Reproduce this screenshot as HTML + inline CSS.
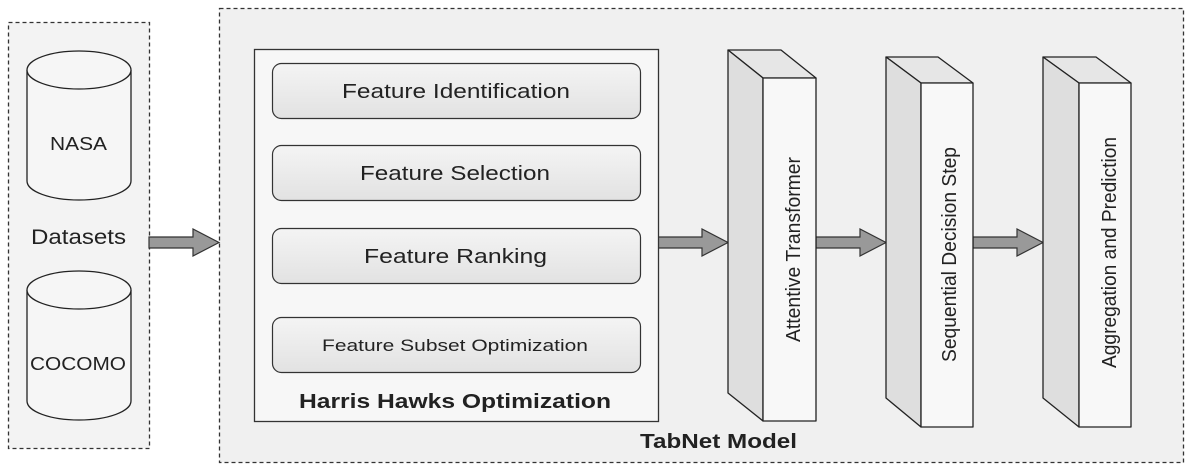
<!DOCTYPE html>
<html><head><meta charset="utf-8"><style>
html,body{margin:0;padding:0;background:#fff;}
svg{display:block;}
text{font-family:"Liberation Sans",Arial,sans-serif;fill:#222;}
</style></head><body>
<svg width="1200" height="476" viewBox="0 0 1200 476" xmlns="http://www.w3.org/2000/svg">
<defs>
<linearGradient id="g" x1="0" y1="0" x2="0" y2="1"><stop offset="0" stop-color="#f4f4f4"/><stop offset="1" stop-color="#e2e2e2"/></linearGradient>
</defs>
<rect x="8.5" y="22.5" width="141" height="426" fill="#f3f3f3" stroke="#333" stroke-width="1.3" stroke-dasharray="4,3"/>
<rect x="219.5" y="8.5" width="964" height="454" fill="#f0f0f0" stroke="#333" stroke-width="1.3" stroke-dasharray="4,3"/>
<g fill="#f6f6f6" stroke="#222" stroke-width="1.3">
<path d="M27,70 L27,181 A52,19 0 0 0 131,181 L131,70"/>
<ellipse cx="79" cy="70" rx="52" ry="19"/>
<path d="M27,290 L27,401 A52,19 0 0 0 131,401 L131,290"/>
<ellipse cx="79" cy="290" rx="52" ry="19"/>
</g>
<text x="50" y="150" font-size="18" textLength="57" lengthAdjust="spacingAndGlyphs">NASA</text>
<text x="30" y="370" font-size="18" textLength="96" lengthAdjust="spacingAndGlyphs">COCOMO</text>
<text x="31" y="244" font-size="21" textLength="95" lengthAdjust="spacingAndGlyphs">Datasets</text>
<g fill="#999" stroke="#333" stroke-width="1.2">
<path d="M149,237 L193,237 L193,229 L219,242.5 L193,256 L193,248 L149,248 Z"/>
<path d="M658,237 L702,237 L702,229 L728,242.5 L702,256 L702,248 L658,248 Z"/>
<path d="M816,237 L860,237 L860,229 L886,242.5 L860,256 L860,248 L816,248 Z"/>
<path d="M973,237 L1017,237 L1017,229 L1043,242.5 L1017,256 L1017,248 L973,248 Z"/>
</g>
<rect x="254.5" y="49.5" width="404" height="372" fill="#f7f7f7" stroke="#333" stroke-width="1.3"/>
<g fill="url(#g)" stroke="#333" stroke-width="1.2">
<rect x="272.5" y="63.5" width="368" height="55" rx="9"/>
<rect x="272.5" y="145.5" width="368" height="55" rx="9"/>
<rect x="272.5" y="228.5" width="368" height="55" rx="9"/>
<rect x="272.5" y="317.5" width="368" height="55" rx="9"/>
</g>
<text x="342" y="98" font-size="20" textLength="228" lengthAdjust="spacingAndGlyphs">Feature Identification</text>
<text x="360" y="180" font-size="20" textLength="190" lengthAdjust="spacingAndGlyphs">Feature Selection</text>
<text x="364" y="263" font-size="20" textLength="183" lengthAdjust="spacingAndGlyphs">Feature Ranking</text>
<text x="322" y="351" font-size="17" textLength="266" lengthAdjust="spacingAndGlyphs">Feature Subset Optimization</text>
<text x="299" y="408" font-size="20" font-weight="bold" textLength="312" lengthAdjust="spacingAndGlyphs">Harris Hawks Optimization</text>
<text x="640" y="448" font-size="20" font-weight="bold" textLength="157" lengthAdjust="spacingAndGlyphs">TabNet Model</text>
<g stroke="#222" stroke-width="1.3" stroke-linejoin="round">
<path d="M728,50 L781,50 L816,78 L763,78 Z" fill="#e6e6e6"/>
<path d="M728,50 L763,78 L763,421 L728,393 Z" fill="#dedede"/>
<rect x="763" y="78" width="53" height="343" fill="#f8f8f8"/>
<path d="M886,57 L938,57 L973,83 L921,83 Z" fill="#e6e6e6"/>
<path d="M886,57 L921,83 L921,427 L886,398 Z" fill="#dedede"/>
<rect x="921" y="83" width="52" height="344" fill="#f8f8f8"/>
<path d="M1043,57 L1096,57 L1131,83 L1079,83 Z" fill="#e6e6e6"/>
<path d="M1043,57 L1079,83 L1079,427 L1043,398 Z" fill="#dedede"/>
<rect x="1079" y="83" width="52" height="344" fill="#f8f8f8"/>
</g>
<text transform="translate(800,342) rotate(-90)" font-size="20" textLength="185" lengthAdjust="spacingAndGlyphs">Attentive Transformer</text>
<text transform="translate(956,362) rotate(-90)" font-size="20" textLength="215" lengthAdjust="spacingAndGlyphs">Sequential Decision Step</text>
<text transform="translate(1116,368) rotate(-90)" font-size="20" textLength="231" lengthAdjust="spacingAndGlyphs">Aggregation and Prediction</text>
</svg>
</body></html>
